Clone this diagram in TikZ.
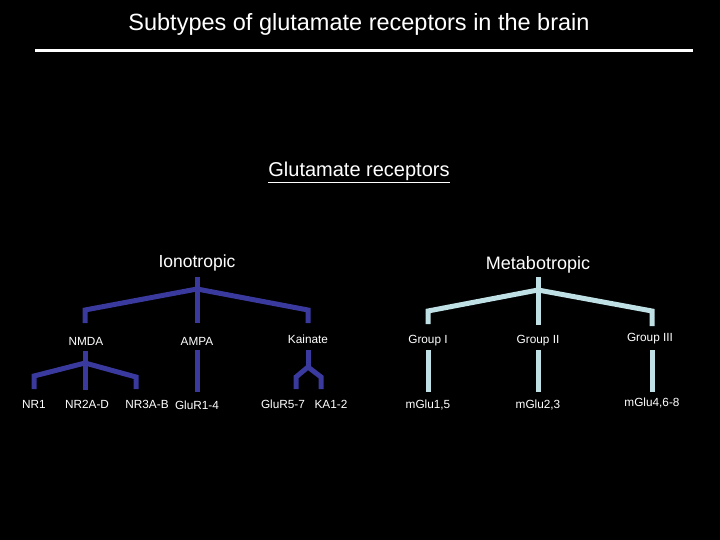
\documentclass[tikz,border=0pt]{standalone}
\usepackage{fontspec}
\setmainfont{Liberation Sans}
\definecolor{iono}{HTML}{3A3A9E}
\definecolor{meta}{HTML}{BFE1E6}
\begin{document}
\begin{tikzpicture}[x=1pt,y=-1pt,
    lbl/.style={text=white,font=\fontsize{11.8}{13}\selectfont,inner sep=1pt},
    head/.style={text=white,font=\fontsize{17.5}{20}\selectfont,inner sep=1pt},
    ibr/.style={draw=iono,line width=5pt,line join=miter},
    mbr/.style={draw=meta,line width=5pt,line join=miter}]
    \fill[black] (0,0) rectangle (720,540);
    \useasboundingbox (0,0) rectangle (720,540);
    \node[head,font=\fontsize{23.5}{26}\selectfont] (title) at (359,24) {Subtypes of glutamate receptors in the brain};
    \coordinate (ruleL) at (35,51); \coordinate (ruleR) at (693,51);
    \draw[white,line width=3pt] (ruleL) -- (ruleR); %Rule
    \node[head,font=\fontsize{20}{23}\selectfont] (glu) at (359,172) {\underline{Glutamate receptors}};
    \node[head] (iono) at (197,263) {Ionotropic};
    \node[head,font=\fontsize{18}{21}\selectfont] (meta) at (538,265) {Metabotropic};
    % Ionotropic
    \foreach \n/\x/\y/\t in {nmda/86/341/NMDA, ampa/197/341/AMPA, kain/308/339/Kainate,
        nr1/34/404/NR1, nr2/87/404/NR2A-D, nr3/147/404/NR3A-B, glur/197/405/GluR1-4,
        glu57/283/404/GluR5-7, ka/331/404/KA1-2,
        g1/428/341/Group I, g2/538/341/Group II, g3/650/339/Group III,
        m15/428/405/{mGlu1,5}, m23/538/405/{mGlu2,3}, m48/652/403/{mGlu4,6-8}}
      \node[lbl] (\n) at (\x,\y) {\t};
    \coordinate (ij) at (197,289);
    \draw[ibr] (197,277) -- (ij);
    \draw[ibr] (85,323) -- (85,310) -- (ij) -- (308,310) -- (308,323);
    \draw[ibr] (ij) -- (197,323);
    \coordinate (nj) at (85,363);
    \draw[ibr] (85,351) -- (nj) -- (85,390);
    \draw[ibr] (34,389) -- (34,376) -- (nj) -- (136,377) -- (136,389);
    \draw[ibr] (197,350) -- (197,392);
    \coordinate (kj) at (308,367);
    \draw[ibr] (308,350) -- (kj);
    \draw[ibr] (296,389) -- (296,377) -- (kj) -- (321,377) -- (321,389);
    % Metabotropic
    \coordinate (mj) at (538,290);
    \draw[mbr] (538,277) -- (mj) -- (538,325);
    \draw[mbr] (428,324) -- (428,311) -- (mj) -- (652,311) -- (652,326);
    \foreach \x in {428,538,652}
      \draw[mbr] (\x,350) -- (\x,392);
\end{tikzpicture}
\end{document}
